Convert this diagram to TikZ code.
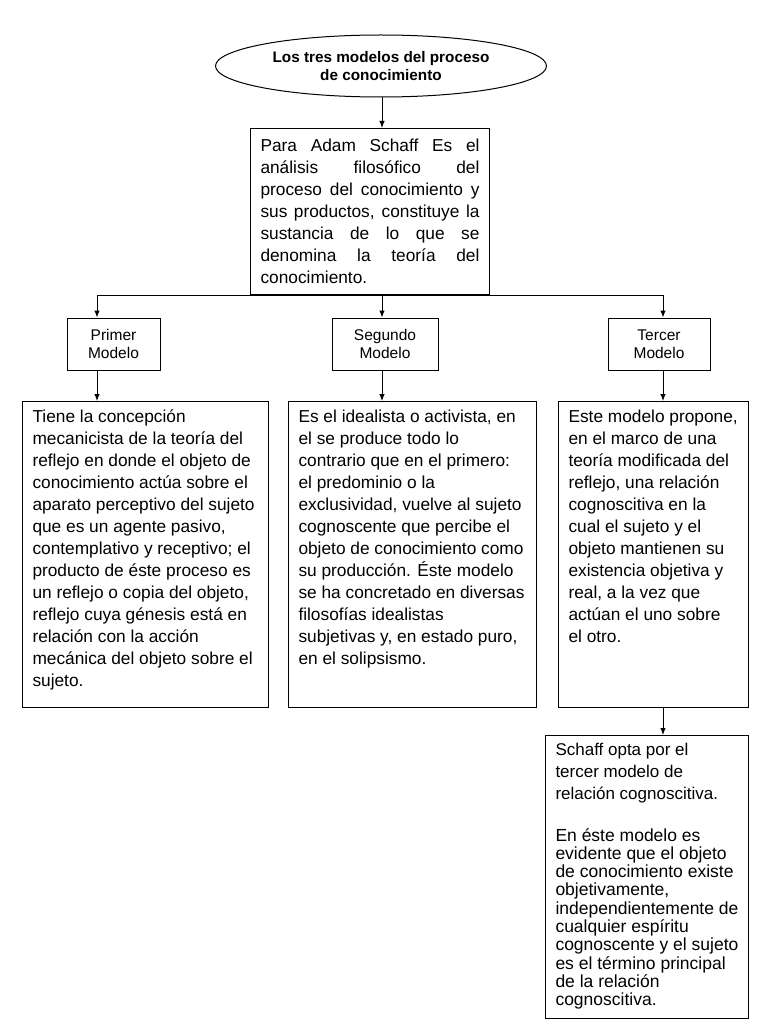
\documentclass[tikz,border=0pt]{standalone}
\usepackage{fontspec}
\setmainfont{Liberation Sans}
\usetikzlibrary{positioning,arrows.meta,shapes.geometric}
\tikzset{
>={Latex[length=7pt,width=5.5pt]},
  titulo/.style={
    ellipse,
    draw=black, line width=1pt,
    minimum width=331pt,
    minimum height=62pt,
    inner sep=0pt,
    font=\fontsize{15.3}{18}\selectfont\bfseries,
    align=center},
  modelo/.style={
    rectangle,
    draw=black, line width=1pt,
    minimum height=52pt,
    inner sep=0pt,
    font=\fontsize{15.5}{18.3}\selectfont,
    align=center},
  caja/.style={
    rectangle,
    draw=black, line width=1pt,
    anchor=north west,
    inner xsep=10pt, inner ysep=8pt,
    font=\fontsize{17.3}{22}\selectfont},
  flecha/.style={draw, line width=1pt, ->},
}
\newcommand{\linea}[1]{\makebox[\linewidth][s]{#1}}

\begin{document}
\begin{tikzpicture}[x=1pt,y=-1pt]
  \fill[white] (0,0) rectangle (768,1024);
  \useasboundingbox (0,0) rectangle (768,1024);

  \node[titulo] (titulo) at (381,66) {Los tres modelos del proceso\\de conocimiento};

  \node[caja, inner ysep=10pt] (adam) at (250,128) {\parbox[c][146pt][t]{219pt}{%
    \linea{Para Adam Schaff Es el}\\
    \linea{análisis filosófico del}\\
    \linea{proceso del conocimiento y}\\
    \linea{sus productos, constituye la}\\
    \linea{sustancia de lo que se}\\
    \linea{denomina la teoría del}\\
    conocimiento.}};

  % los tres modelos
  \node[modelo, minimum width=93pt] (primer) at (113.5,344) {Primer\\Modelo};
  \node[modelo, minimum width=106pt] (segundo) at (385,344) {Segundo\\Modelo};
  \node[modelo, minimum width=102pt] (tercer) at (659,344) {Tercer\\Modelo};

  \node[caja] (caja1) at (22,401) {\parbox[c][290pt][t]{226pt}{\raggedright
    Tiene la concepción\\
    mecanicista de la teoría del\\
    reflejo en donde el objeto de\\
    conocimiento actúa sobre el\\
    aparato perceptivo del sujeto\\
    que es un agente pasivo,\\
    contemplativo y receptivo; el\\
    producto de éste proceso es\\
    un reflejo o copia del objeto,\\
    reflejo cuya génesis está en\\
    relación con la acción\\
    mecánica del objeto sobre el\\
    sujeto.}};

  \node[caja] (caja2) at (288,401) {\parbox[c][290pt][t]{228pt}{\raggedright
    Es el idealista o activista, en\\
    el se produce todo lo\\
    contrario que en el primero:\\
    el predominio o la\\
    exclusividad, vuelve al sujeto\\
    cognoscente que percibe el\\
    objeto de conocimiento como\\
    su producción. Éste modelo\\
    se ha concretado en diversas\\
    filosofías idealistas\\
    subjetivas y, en estado puro,\\
    en el solipsismo.}};

  \node[caja] (caja3) at (558,401) {\parbox[c][290pt][t]{170pt}{\raggedright
    Este modelo propone,\\
    en el marco de una\\
    teoría modificada del\\
    reflejo, una relación\\
    cognoscitiva en la\\
    cual el sujeto y el\\
    objeto mantienen su\\
    existencia objetiva y\\
    real, a la vez que\\
    actúan el uno sobre\\
    el otro.}};

  \node[caja, inner xsep=0pt, font=\fontsize{17}{21.7}\selectfont] (caja4) at (545,735)
    {\hspace*{10pt}\parbox[c][267pt][t]{193pt}{\raggedright
    Schaff opta por el\\
    tercer modelo de\\
    relación cognoscitiva.\par
    \vspace{23.5pt}
    \fontsize{17.5}{18.3}\selectfont
    En éste modelo es\\
    evidente que el objeto\\
    de conocimiento existe\\
    objetivamente,\\
    independientemente de\\
    cualquier espíritu\\
    cognoscente y el sujeto\\
    es el término principal\\
    de la relación\\
    cognoscitiva.}};

  % conectores
  \coordinate (c1) at (97,0);
  \coordinate (c2) at (382,0);
  \coordinate (c3) at (663,0);
  \draw[flecha] (titulo.south -| c2) -- (adam.north -| c2);
  \draw[line width=1pt] (adam.south -| c1) -- (adam.south -| c3);
  \foreach \m/\c/\k in {primer/c1/caja1, segundo/c2/caja2, tercer/c3/caja3}{
    \draw[flecha] (adam.south -| \c) -- (\m.north -| \c);
    \draw[flecha] (\m.south -| \c) -- (\k.north -| \c);
  }
  \draw[flecha] (caja3.south -| c3) -- (caja4.north -| c3);
\end{tikzpicture}
\end{document}
